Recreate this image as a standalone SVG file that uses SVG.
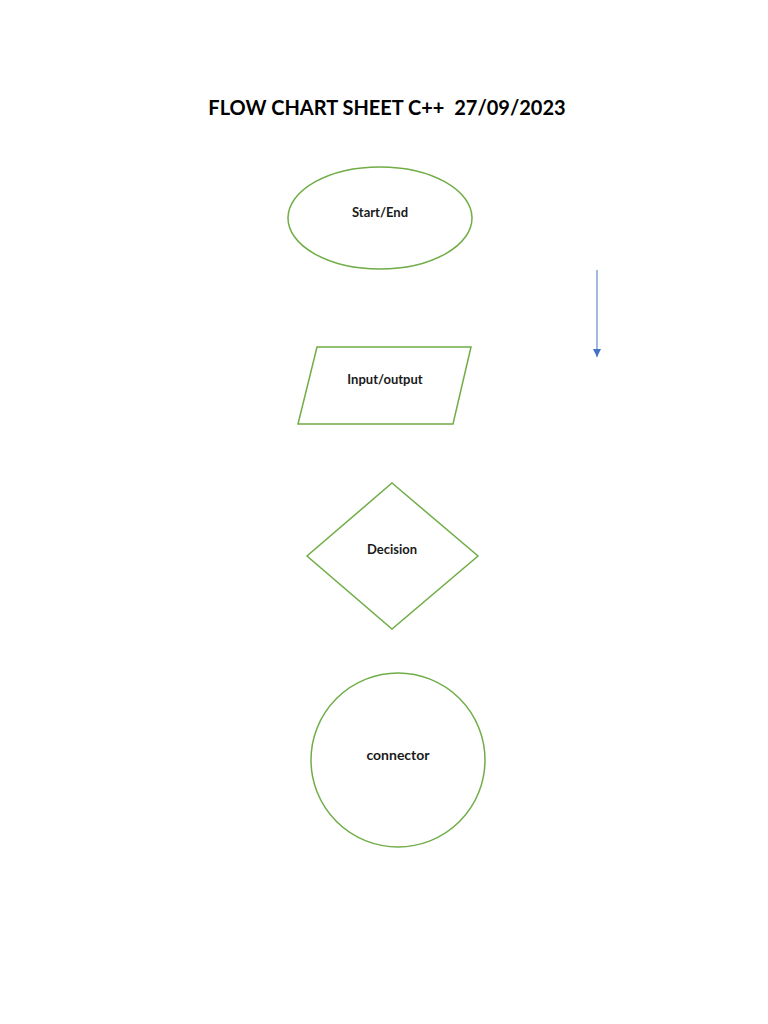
<svg xmlns="http://www.w3.org/2000/svg" width="768" height="1024" viewBox="0 0 768 1024">
<style>
.shape{fill:#ffffff;stroke:#70AD47;stroke-width:1.5}
.lbl{font-family:Lato,"Open Sans","Liberation Sans",sans-serif;font-weight:bold;fill:#1a1a1a;text-anchor:middle;dominant-baseline:central}
.title{font-family:Lato,"Open Sans","Liberation Sans",sans-serif;font-weight:bold;fill:#000000;font-size:20px;text-anchor:middle;dominant-baseline:central;white-space:pre}
</style>
<defs>
<marker id="arr" viewBox="0 0 10 10" refX="10" refY="5" markerWidth="8" markerHeight="8" markerUnits="userSpaceOnUse" orient="auto">
<path d="M0,0 L10,5 L0,10 Z" fill="#4472C4"/>
</marker>
</defs>
<rect width="768" height="1024" fill="#ffffff"/>
<text class="title" x="387" y="107" xml:space="preserve">FLOW CHART SHEET C++  27/09/2023</text>
<g id="start-end">
<ellipse class="shape" cx="380" cy="218" rx="92" ry="51"/>
<text class="lbl" x="380" y="212" font-size="13">Start/End</text>
</g>
<g id="input-output">
<polygon class="shape" points="317,347 471,347 453,424 298,424"/>
<text class="lbl" x="385" y="379" font-size="13">Input/output</text>
</g>
<g id="decision">
<polygon class="shape" points="392,483 478,556 392,629 307,556"/>
<text class="lbl" x="392" y="549" font-size="13">Decision</text>
</g>
<g id="connector">
<circle class="shape" cx="398" cy="760" r="87"/>
<text class="lbl" x="398" y="754" font-size="14">connector</text>
</g>
<g id="connectors">
<line x1="597" y1="270" x2="597" y2="357" stroke="#4472C4" stroke-width="1" marker-end="url(#arr)"/>
</g>
</svg>
